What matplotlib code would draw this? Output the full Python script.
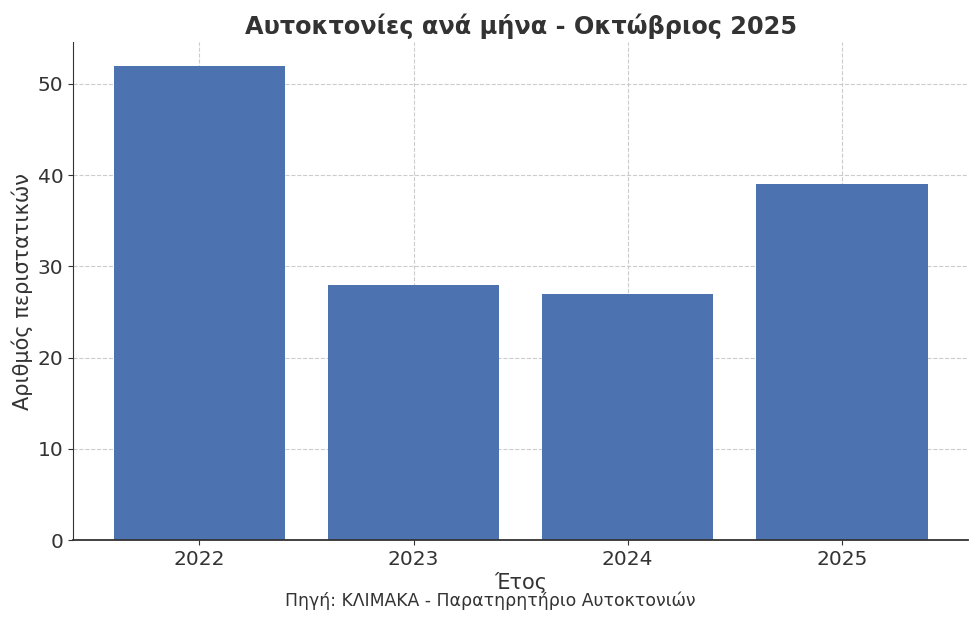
import matplotlib.pyplot as plt

# data
years = ['2022', '2023', '2024', '2025']
cases = [52, 28, 27, 39]

plt.rcParams['font.family'] = ['DejaVu Sans']
plt.rcParams['text.color'] = '#333333'
plt.rcParams['axes.labelcolor'] = '#333333'
plt.rcParams['xtick.color'] = '#333333'
plt.rcParams['ytick.color'] = '#333333'

fig = plt.figure(figsize=(9.8, 6.23), dpi=100)
ax = fig.add_axes([0.0745, 0.133, 0.9135, 0.7996])

ax.bar(years, cases, width=0.8, color='#4C72B0', zorder=2)
ax.grid(True, linestyle='--', color='#cccccc', linewidth=0.8, zorder=0)
ax.spines['top'].set_visible(False)
ax.spines['right'].set_visible(False)
ax.spines['left'].set_color('#333333')
ax.spines['bottom'].set_color('#333333')
ax.spines['bottom'].set_linewidth(1.3)

ax.tick_params(labelsize=14.5)
ax.set_xlabel('Έτος', fontsize=15, labelpad=2)
ax.set_ylabel('Αριθμός περιστατικών', fontsize=15, labelpad=3)
ax.set_title('Αυτοκτονίες ανά μήνα - Οκτώβριος 2025', fontsize=17.3, fontweight='bold', pad=6)

fig.text(0.5, 0.035, 'Πηγή: ΚΛΙΜΑΚΑ - Παρατηρητήριο Αυτοκτονιών', ha='center', va='center', fontsize=12.4)

fig.savefig('out.png', dpi=100)
